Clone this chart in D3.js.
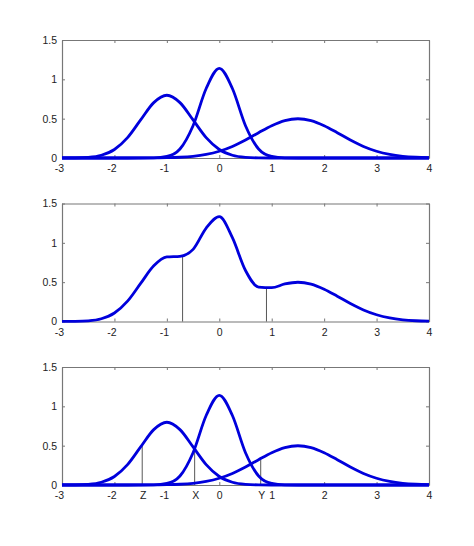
<!DOCTYPE html>
<meta charset="utf-8">
<script src="https://d3js.org/d3.v7.min.js"></script>
<style>
  body { margin: 0; background: #fff; }
  text { font-family: "Liberation Sans", Arial, sans-serif; }
</style>
<div id="chart"></div>
<script>

// sample positions shared by every curve
const xs = [-3, -2.75, -2.5, -2.25, -2, -1.75, -1.5, -1.25, -1, -0.75, -0.5, -0.25,
            0, 0.25, 0.5, 0.75, 1, 1.25, 1.5, 1.75, 2, 2.25, 2.5, 2.75, 3, 3.25, 3.5, 3.75, 4];

// left bump (peak near -1)
const bumpLeft = [0.0003, 0.0017, 0.0089, 0.0351, 0.1080, 0.2591, 0.4839, 0.7041, 0.7979, 0.7041, 0.4839, 0.2591,
                  0.1080, 0.0351, 0.0089, 0.0017, 0.0003, 0, 0, 0, 0, 0, 0, 0, 0, 0, 0, 0, 0];
// narrow bump (peak at 0)
const bumpMid = [0, 0, 0, 0, 0, 0, 0.0001, 0.0019, 0.0192, 0.1148, 0.4108, 0.8831,
                 1.1398, 0.8831, 0.4108, 0.1148, 0.0192, 0.0019, 0.0001, 0, 0, 0, 0, 0, 0, 0, 0, 0, 0];
// wide bump (peak near 1.5)
const bumpRight = [0, 0, 0, 0, 0, 0.0001, 0.0004, 0.0014, 0.0038, 0.0096, 0.0219, 0.0456,
                   0.0860, 0.1471, 0.2283, 0.3214, 0.4102, 0.4749, 0.4987, 0.4749, 0.4102, 0.3214, 0.2283, 0.1471, 0.0860, 0.0456, 0.0219, 0.0096, 0.0038];
// total curve in the middle panel
const total = [0.0003, 0.0017, 0.0089, 0.0351, 0.1080, 0.2592, 0.4844, 0.7074, 0.8209, 0.8285, 0.9166, 1.1878,
               1.3338, 1.0653, 0.6480, 0.4379, 0.4297, 0.4768, 0.4988, 0.4749, 0.4102, 0.3214, 0.2283, 0.1471, 0.0860, 0.0456, 0.0219, 0.0096, 0.0038];

const xTicks = [-3, -2, -1, 0, 1, 2, 3, 4];
const yTicks = [0, 0.5, 1, 1.5];

// drop lines in the middle panel
const midDropX = [-0.7, 0.9];
const midDropY = [0.83, 0.42];

// marked points in the bottom panel
const markNames = ["Z", "X", "Y"];
const markX = [-1.47, -0.47, 0.79];
const markY = [0.51, 0.45, 0.33];

const W = 474, H = 546;
const left = 62, right = 429, panelH = 118;
const tops = [40, 203.5, 367];

const svg = d3.select("#chart").append("svg")
    .attr("width", W)
    .attr("height", H);

const x = d3.scaleLinear().domain([-3, 4]).range([left, right]);

// plain hyphen minus, no trailing zeros
const fmt = d => String(d);

function drawPanel(top, series, drops) {
  const y = d3.scaleLinear().domain([0, 1.5]).range([top + panelH, top]);
  const g = svg.append("g");

  // box with inward ticks on all four sides
  const bottomAxis = g.append("g")
      .attr("transform", `translate(0,${top + panelH})`)
      .call(d3.axisBottom(x).tickValues(xTicks).tickFormat(fmt).tickSizeInner(-3).tickSizeOuter(0).tickPadding(7));
  bottomAxis.selectAll(".tick text")
      .attr("dx", d => d < 0 ? -3 : 0);
  g.append("g")
      .attr("transform", `translate(0,${top})`)
      .call(d3.axisTop(x).tickValues(xTicks).tickSizeInner(-3).tickSizeOuter(0).tickFormat(""));
  g.append("g")
      .attr("transform", `translate(${left},0)`)
      .call(d3.axisLeft(y).tickValues(yTicks).tickFormat(fmt).tickSizeInner(-3).tickSizeOuter(0).tickPadding(5));
  g.append("g")
      .attr("transform", `translate(${right},0)`)
      .call(d3.axisRight(y).tickValues(yTicks).tickSizeInner(-3).tickSizeOuter(0).tickFormat(""));

  g.selectAll(".domain").attr("stroke", "#777").attr("stroke-width", 1.2);
  g.selectAll(".tick line").attr("stroke", "#777");
  g.selectAll(".tick text").attr("font-size", 10.5).attr("fill", "#222");

  // thin drop lines
  g.selectAll("line.drop")
    .data(drops)
    .join("line")
      .attr("class", "drop")
      .attr("x1", d => x(d.x)).attr("x2", d => x(d.x))
      .attr("y1", y(0)).attr("y2", d => y(d.y))
      .attr("stroke", "#444")
      .attr("stroke-width", 0.9);

  const line = d3.line()
      .x((d, i) => x(xs[i]))
      .y(d => y(d))
      .curve(d3.curveMonotoneX);

  g.selectAll("path.curve")
    .data(series)
    .join("path")
      .attr("class", "curve")
      .attr("d", line)
      .attr("fill", "none")
      .attr("stroke", "#0000dc")
      .attr("stroke-width", 2.8)
      .attr("stroke-linejoin", "round");

  return {g, y};
}

// top: the three bumps
drawPanel(tops[0], [bumpLeft, bumpMid, bumpRight], []);

// middle: their total with two drop lines
drawPanel(tops[1], [total], midDropX.map((v, i) => ({x: v, y: midDropY[i]})));

// bottom: bumps again with the marked points
const p3 = drawPanel(tops[2], [bumpLeft, bumpMid, bumpRight],
                     markX.map((v, i) => ({x: v, y: markY[i]})));
p3.g.selectAll("text.mark")
  .data(markNames)
  .join("text")
    .attr("class", "mark")
    .attr("x", (d, i) => x(markX[i]) + 1)
    .attr("y", p3.y(0) + 7)
    .attr("dy", "0.71em")
    .attr("text-anchor", "middle")
    .attr("font-size", 10.5)
    .attr("fill", "#222")
    .text(d => d);

</script>
